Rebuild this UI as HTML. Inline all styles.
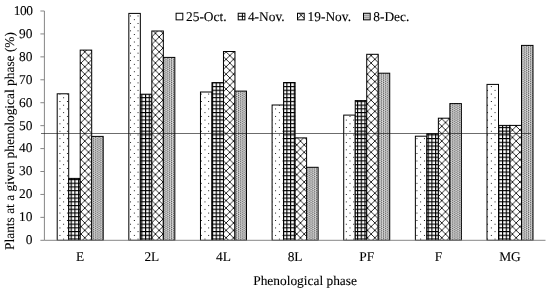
<!DOCTYPE html>
<html><head><meta charset="utf-8"><title>Phenological phase chart</title>
<style>
html,body{margin:0;padding:0;background:#fff;}
body{width:550px;height:293px;overflow:hidden;}
svg{display:block;}
text{text-rendering:geometricPrecision;font-family:"Liberation Serif","Times New Roman",serif;font-size:13.4px;fill:#000;stroke:#000;stroke-width:0.1px;}
</style></head><body>
<svg width="550" height="293" viewBox="0 0 550 293">
<defs>
<pattern id="p1" width="8" height="8" patternUnits="userSpaceOnUse" patternTransform="translate(-0.03,4.35) scale(0.9297)">
<rect width="8" height="8" fill="#fff"/><rect x="0" y="0" width="1" height="1" fill="#000"/><rect x="4" y="4" width="1" height="1" fill="#000"/></pattern>
<pattern id="p2" width="4" height="4" patternUnits="userSpaceOnUse" patternTransform="translate(3.70,0.45) scale(0.9297)">
<rect width="4" height="4" fill="#000"/><rect x="1.22" y="1.22" width="2.78" height="2.78" fill="#fff"/></pattern>
<pattern id="p3" width="8" height="8" patternUnits="userSpaceOnUse" patternTransform="translate(2.97,-0.22) scale(0.9297)">
<rect width="8" height="8" fill="#fff"/><path d="M-1,-1 L9,9 M9,-1 L-1,9 M-1,7 L1,9 M7,-1 L9,1 M-1,1 L1,-1 M7,9 L9,7" stroke="#000" stroke-width="0.9" fill="none"/></pattern>
<pattern id="p4" width="4" height="2" patternUnits="userSpaceOnUse" patternTransform="translate(3.70,0.25) scale(0.9297)">
<rect width="4" height="2" fill="#fff"/><rect x="0" y="0" width="1.4" height="1.4" fill="#585858"/><rect x="2" y="1" width="1.4" height="1.4" fill="#585858"/><rect x="2" y="-1" width="1.4" height="1.4" fill="#585858"/></pattern>
<filter id="bl" filterUnits="userSpaceOnUse" x="0" y="0" width="550" height="293"><feGaussianBlur stdDeviation="0.35"/></filter>
</defs>

<g filter="url(#bl)">
<rect x="57.20" y="93.80" width="11.50" height="146.50" fill="url(#p1)" stroke="#000" stroke-width="1"/>
<rect x="68.70" y="178.40" width="11.50" height="61.90" fill="url(#p2)" stroke="#000" stroke-width="1"/>
<rect x="80.20" y="50.10" width="11.50" height="190.20" fill="url(#p3)" stroke="#000" stroke-width="1"/>
<rect x="91.70" y="136.40" width="11.50" height="103.90" fill="url(#p4)" stroke="#000" stroke-width="1"/>
<rect x="128.83" y="13.40" width="11.50" height="226.90" fill="url(#p1)" stroke="#000" stroke-width="1"/>
<rect x="140.33" y="94.20" width="11.50" height="146.10" fill="url(#p2)" stroke="#000" stroke-width="1"/>
<rect x="151.83" y="31.00" width="11.50" height="209.30" fill="url(#p3)" stroke="#000" stroke-width="1"/>
<rect x="163.33" y="57.40" width="11.50" height="182.90" fill="url(#p4)" stroke="#000" stroke-width="1"/>
<rect x="200.47" y="92.00" width="11.50" height="148.30" fill="url(#p1)" stroke="#000" stroke-width="1"/>
<rect x="211.97" y="82.60" width="11.50" height="157.70" fill="url(#p2)" stroke="#000" stroke-width="1"/>
<rect x="223.47" y="51.50" width="11.50" height="188.80" fill="url(#p3)" stroke="#000" stroke-width="1"/>
<rect x="234.97" y="91.10" width="11.50" height="149.20" fill="url(#p4)" stroke="#000" stroke-width="1"/>
<rect x="272.10" y="105.00" width="11.50" height="135.30" fill="url(#p1)" stroke="#000" stroke-width="1"/>
<rect x="283.60" y="82.50" width="11.50" height="157.80" fill="url(#p2)" stroke="#000" stroke-width="1"/>
<rect x="295.10" y="137.90" width="11.50" height="102.40" fill="url(#p3)" stroke="#000" stroke-width="1"/>
<rect x="306.60" y="167.30" width="11.50" height="73.00" fill="url(#p4)" stroke="#000" stroke-width="1"/>
<rect x="343.73" y="115.10" width="11.50" height="125.20" fill="url(#p1)" stroke="#000" stroke-width="1"/>
<rect x="355.23" y="100.60" width="11.50" height="139.70" fill="url(#p2)" stroke="#000" stroke-width="1"/>
<rect x="366.73" y="54.30" width="11.50" height="186.00" fill="url(#p3)" stroke="#000" stroke-width="1"/>
<rect x="378.23" y="73.20" width="11.50" height="167.10" fill="url(#p4)" stroke="#000" stroke-width="1"/>
<rect x="415.37" y="136.20" width="11.50" height="104.10" fill="url(#p1)" stroke="#000" stroke-width="1"/>
<rect x="426.87" y="133.70" width="11.50" height="106.60" fill="url(#p2)" stroke="#000" stroke-width="1"/>
<rect x="438.37" y="118.20" width="11.50" height="122.10" fill="url(#p3)" stroke="#000" stroke-width="1"/>
<rect x="449.87" y="103.60" width="11.50" height="136.70" fill="url(#p4)" stroke="#000" stroke-width="1"/>
<rect x="487.00" y="84.40" width="11.50" height="155.90" fill="url(#p1)" stroke="#000" stroke-width="1"/>
<rect x="498.50" y="125.40" width="11.50" height="114.90" fill="url(#p2)" stroke="#000" stroke-width="1"/>
<rect x="510.00" y="125.40" width="11.50" height="114.90" fill="url(#p3)" stroke="#000" stroke-width="1"/>
<rect x="521.50" y="45.40" width="11.50" height="194.90" fill="url(#p4)" stroke="#000" stroke-width="1"/>
</g>
<path d="M44.40,11.00 V240.30 H545.50" stroke="#868686" stroke-width="1" fill="none"/>
<path d="M40.40,240.30 H44.40" stroke="#868686" stroke-width="1"/>
<text x="32.40" y="244.20" text-anchor="end">0</text>
<path d="M40.40,217.37 H44.40" stroke="#868686" stroke-width="1"/>
<text x="32.40" y="221.27" text-anchor="end">10</text>
<path d="M40.40,194.44 H44.40" stroke="#868686" stroke-width="1"/>
<text x="32.40" y="198.34" text-anchor="end">20</text>
<path d="M40.40,171.51 H44.40" stroke="#868686" stroke-width="1"/>
<text x="32.40" y="175.41" text-anchor="end">30</text>
<path d="M40.40,148.58 H44.40" stroke="#868686" stroke-width="1"/>
<text x="32.40" y="152.48" text-anchor="end">40</text>
<path d="M40.40,125.65 H44.40" stroke="#868686" stroke-width="1"/>
<text x="32.40" y="129.55" text-anchor="end">50</text>
<path d="M40.40,102.72 H44.40" stroke="#868686" stroke-width="1"/>
<text x="32.40" y="106.62" text-anchor="end">60</text>
<path d="M40.40,79.79 H44.40" stroke="#868686" stroke-width="1"/>
<text x="32.40" y="83.69" text-anchor="end">70</text>
<path d="M40.40,56.86 H44.40" stroke="#868686" stroke-width="1"/>
<text x="32.40" y="60.76" text-anchor="end">80</text>
<path d="M40.40,33.93 H44.40" stroke="#868686" stroke-width="1"/>
<text x="32.40" y="37.83" text-anchor="end">90</text>
<path d="M40.40,11.00 H44.40" stroke="#868686" stroke-width="1"/>
<text x="32.70" y="14.90" text-anchor="end" letter-spacing="-0.35">100</text>
<path d="M41,133.5 H531" stroke="#111" stroke-width="0.62"/>
<text x="80.20" y="261" text-anchor="middle">E</text>
<text x="151.83" y="261" text-anchor="middle">2L</text>
<text x="223.47" y="261" text-anchor="middle">4L</text>
<text x="295.10" y="261" text-anchor="middle">8L</text>
<text x="366.73" y="261" text-anchor="middle">PF</text>
<text x="438.37" y="261" text-anchor="middle">F</text>
<text x="510.00" y="261" text-anchor="middle">MG</text>
<text x="305.1" y="285" text-anchor="middle">Phenological phase</text>
<text transform="translate(14,141) rotate(-90)" text-anchor="middle">Plants at a given phenological phase (%)</text>
<rect x="176.10" y="13.25" width="6.70" height="6.60" fill="#fff" stroke="#000" stroke-width="1"/>
<text x="186.00" y="20.50">25-Oct.</text>
<rect x="238.20" y="13.25" width="6.70" height="6.60" fill="#fff" stroke="#000" stroke-width="1"/>
<path d="M242.40,13.25 V19.85 M238.20,16.30 H244.90" stroke="#000" stroke-width="1" fill="none"/>
<text x="247.90" y="20.50">4-Nov.</text>
<clipPath id="c3"><rect x="297.50" y="13.25" width="6.70" height="6.60"/></clipPath>
<rect x="297.50" y="13.25" width="6.70" height="6.60" fill="#fff" stroke="#000" stroke-width="1"/>
<path clip-path="url(#c3)" d="M295.10,9.30 L307.10,21.30 M307.10,9.30 L295.10,21.30" stroke="#000" stroke-width="0.9" fill="none"/>
<text x="307.60" y="20.50">19-Nov.</text>
<rect x="363.50" y="13.25" width="6.70" height="6.60" fill="#cbcbcb" stroke="#000" stroke-width="1"/>
<path d="M364.00,15.6 H369.70 M364.00,17.6 H369.70" stroke="#777" stroke-width="0.6" fill="none"/>
<text x="373.30" y="20.50">8-Dec.</text>
</svg></body></html>
